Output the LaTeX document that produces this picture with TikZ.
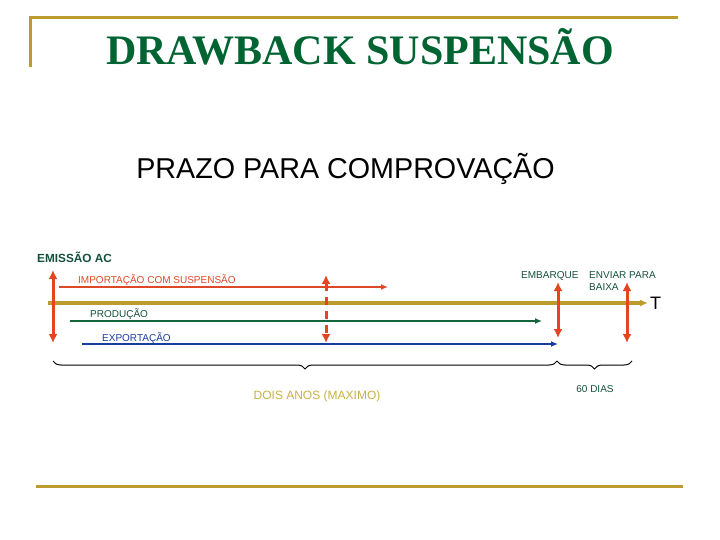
\documentclass[tikz,border=0pt]{standalone}
\usepackage{fontspec}
\setmainfont{Liberation Sans}
\newfontfamily\titlefont{Liberation Serif}
\usetikzlibrary{arrows.meta,decorations.pathreplacing}
\definecolor{gold}{RGB}{190,155,45}
\definecolor{titlegreen}{RGB}{0,100,50}
\definecolor{arrowred}{RGB}{228,68,32}
\definecolor{linered}{RGB}{222,72,40}
\definecolor{linegreen}{RGB}{20,100,60}
\definecolor{lineblue}{RGB}{25,60,160}
\definecolor{textgreen}{RGB}{20,80,60}
\definecolor{olivetext}{RGB}{200,175,70}
\tikzset{
  lbl/.style={inner sep=0pt, anchor=base west, font=\fontsize{10}{12}\selectfont},
  vmark/.style={draw=arrowred, line width=3pt, {Latex[length=9pt,width=9pt]}-{Latex[length=9pt,width=9pt]}},
  hline/.style={line width=2pt, -{Latex[length=7pt,width=6pt]}},
  frame/.style={draw=gold, line width=3pt},
  bracestyle/.style={line width=1pt, decorate, decoration={brace, mirror, amplitude=8pt}}
}
\begin{document}
\begin{tikzpicture}[x=1pt,y=-1pt]
\useasboundingbox (0,0) rectangle (720,540);
% frame lines
\coordinate (f1) at (30,67);
\coordinate (f2) at (30,18);
\coordinate (f3) at (678,18);
\draw[frame] (f1) -- (f2) -- (f3);
\coordinate (b1) at (36,486);
\coordinate (b2) at (683,486);
\draw[frame] (b1) -- (b2);
% titles
\node[inner sep=0pt, anchor=base, text=titlegreen, font=\titlefont\bfseries\fontsize{42}{45}\selectfont] (title) at (360,65) {DRAWBACK SUSPENSÃO};
\node[inner sep=0pt, anchor=base, font=\fontsize{28.7}{32}\selectfont] (prazo) at (345.5,179) {PRAZO PARA COMPROVAÇÃO};
% labels
\node[lbl, text=textgreen, font=\bfseries\fontsize{11.8}{13}\selectfont] (emissao) at (37,262) {EMISSÃO AC};
\node[lbl, text=linered] (import) at (78,283) {IMPORTAÇÃO COM SUSPENSÃO};
\node[lbl, text=textgreen] (prod) at (90,317) {PRODUÇÃO};
\node[lbl, text=lineblue] (exp) at (102,341) {EXPORTAÇÃO};
\node[lbl, text=textgreen] (emb) at (521,278) {EMBARQUE};
\node[lbl, text=textgreen, align=left] (env) at (589,290) {ENVIAR PARA\\BAIXA};
\node[inner sep=0pt, anchor=west, font=\fontsize{18}{20}\selectfont] (T) at (650,303) {T};
% horizontal lines
\coordinate (r1) at (59,287); \coordinate (r2) at (388,287);
\draw[hline, linered] (r1) -- (r2);
\coordinate (g1) at (48,303); \coordinate (g2) at (648,303);
\draw[line width=4pt, gold, -{Latex[length=8pt,width=7pt]}] (g1) -- (g2);
\coordinate (p1) at (70,321); \coordinate (p2) at (542,321);
\draw[hline, linegreen] (p1) -- (p2);
\coordinate (e1) at (82,344); \coordinate (e2) at (558,344);
\draw[hline, lineblue] (e1) -- (e2);
% vertical double arrows
\coordinate (v1a) at (53,270); \coordinate (v1b) at (53,343);
\draw[vmark] (v1a) -- (v1b);
\coordinate (v2a) at (326,275); \coordinate (v2b) at (326,343);
\draw[vmark, dash pattern=on 8pt off 6pt] (v2a) -- (v2b);
\coordinate (v3a) at (558,282); \coordinate (v3b) at (558,338);
\draw[vmark] (v3a) -- (v3b);
\coordinate (v4a) at (627,282); \coordinate (v4b) at (627,343);
\draw[vmark] (v4a) -- (v4b);
% braces
\coordinate (br1) at (53,361); \coordinate (br2) at (557,361); \coordinate (br3) at (632,361);
\draw[bracestyle] (br1) -- (br2);
\draw[bracestyle] (br2) -- (br3);
\node[inner sep=0pt, anchor=base, text=olivetext, font=\fontsize{12}{14}\selectfont] (dois) at (317,399) {DOIS ANOS (MAXIMO)};
\node[inner sep=0pt, anchor=base, text=textgreen, font=\fontsize{10}{12}\selectfont] (dias) at (595,392) {60 DIAS};
\end{tikzpicture}
\end{document}
